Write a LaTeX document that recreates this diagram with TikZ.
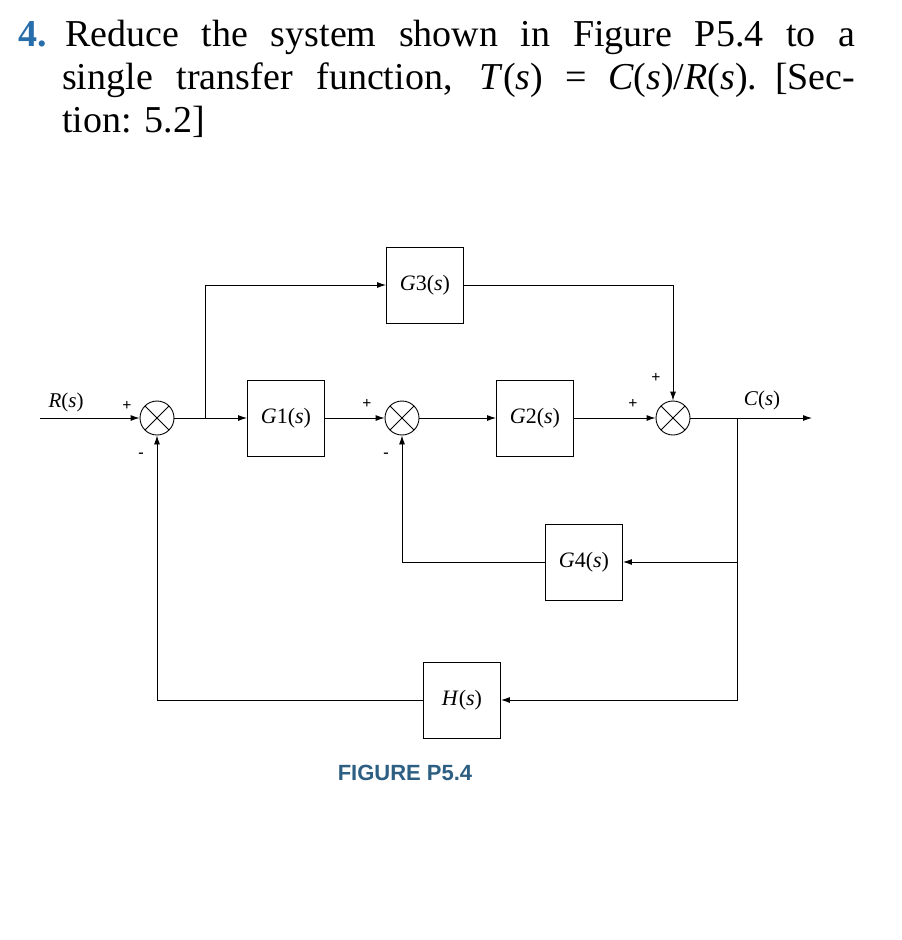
\documentclass[tikz,border=0pt]{standalone}
\usepackage{fontspec}
\setmainfont{Liberation Serif}
\newfontfamily\figfont{Liberation Sans}
\usetikzlibrary{arrows.meta}
\definecolor{numblue}{RGB}{40,110,170}
\definecolor{figblue}{RGB}{45,95,130}
\begin{document}
\begin{tikzpicture}[x=1pt,y=-1pt,
  blk/.style={draw,line width=0.9pt,minimum width=77pt,minimum height=76pt,inner sep=0pt,font=\fontsize{22}{24}\selectfont},
  sum/.style={draw,line width=0.9pt,circle,minimum size=34pt,inner sep=0pt,path picture={\draw[line width=0.9pt] (path picture bounding box.north west)--(path picture bounding box.south east) (path picture bounding box.north east)--(path picture bounding box.south west);}},
  ln/.style={line width=0.9pt},
  ar/.style={line width=0.9pt,-{Latex[length=9pt,width=6pt]}},
  sg/.style={font=\fontsize{16}{16}\selectfont\bfseries},
  tl/.style={anchor=base west,inner sep=0pt,font=\fontsize{38}{43}\selectfont}]
\useasboundingbox (0,0) rectangle (902,940);
\fill[white] (0,0) rectangle (902,940);
\node[tl] (t1) at (18,46) {\makebox[837pt][s]{{\color{numblue}\bfseries 4.}\kern-4pt\ Reduce the system shown in Figure P5.4 to a}};
\node[tl] (t2) at (62,89) {\makebox[793pt][s]{single transfer function, \textit{T}(\textit{s})\kern-2pt\ =\kern-2pt\ \textit{C}(\textit{s})/\textit{R}(\textit{s}).\kern-6pt\ [Sec-}};
\node[tl] (t3) at (62,132) {tion: 5.2]};
\node[sum] (s1) at (157,418) {};
\node[sum] (s2) at (402,418) {};
\node[sum] (s3) at (673,418) {};
\node[blk] (g1) at (286,418) {\textit{G}1(\textit{s})};
\node[blk] (g2) at (535,418) {\textit{G}2(\textit{s})};
\node[blk] (g3) at (425,285) {\textit{G}3(\textit{s})};
\node[blk] (g4) at (584,562) {\textit{G}4(\textit{s})};
\node[blk] (h) at (462,700) {\textit{H}(\textit{s})};
\coordinate (rin) at (40,418);
\coordinate (cout) at (812,418);
\coordinate (b1) at (205,418);
\coordinate (b2) at (737,418);
\node[font=\fontsize{21}{21}\selectfont] (rl) at (66,402) {\textit{R}(\textit{s})};
\node[font=\fontsize{21}{21}\selectfont] (cl) at (762,400) {\textit{C}(\textit{s})};
\draw[ar] (rin) -- (s1);
\draw[ln] (s1) -- (b1);
\draw[ar] (b1) -- (g1);
\draw[ar] (b1) |- (g3);
\draw[ar] (g3.east) -| (s3.north);
\draw[ar] (g1) -- (s2);
\draw[ar] (s2) -- (g2);
\draw[ar] (g2) -- (s3);
\draw[ar] (s3) -- (cout);
\draw[ar] (b2) |- (g4.east);
\draw[ar] (g4.west) -| (s2.south);
\draw[ar] (b2) |- (h.east);
\draw[ar] (h.west) -| (s1.south);
\node[sg] (p1) at (127,406) {+};
\node[sg] (m1) at (141,455) {-};
\node[sg] (p2) at (367,404) {+};
\node[sg] (m2) at (386,455) {-};
\node[sg] (p3) at (633,404) {+};
\node[sg] (p4) at (656,378) {+};
\node[font=\figfont\fontsize{22}{22}\selectfont\bfseries,text=figblue] (fig) at (405,773) {FIGURE P5.4};
\end{tikzpicture}
\end{document}
